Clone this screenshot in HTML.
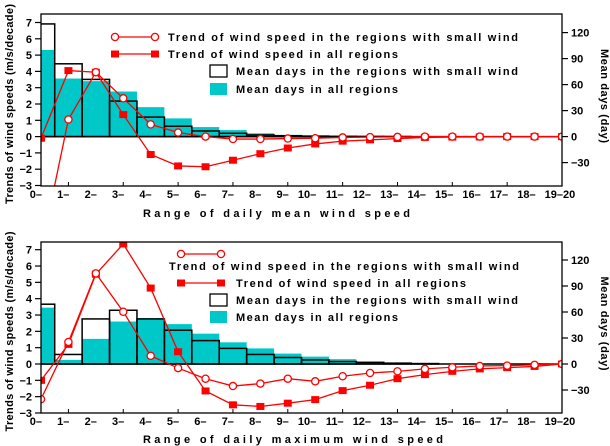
<!DOCTYPE html>
<html><head><meta charset="utf-8">
<style>
html,body{margin:0;padding:0;background:#fff;}
svg{display:block;font-family:"Liberation Sans",sans-serif;}
text{font-weight:bold;font-size:11px;fill:#000;}
</style></head>
<body>
<svg id="chart" width="610" height="446" viewBox="0 0 610 446" xmlns="http://www.w3.org/2000/svg"></svg>
<script>
// ---- data ----
const categories = ["0","1","2","3","4","5","6","7","8","9","10","11","12","13","14","15","16","17","18","19","20"];
const yTicksLeft = [-3,-2,-1,0,1,2,3,4,5,6,7];
const yTicksRight = [-30,0,30,60,90,120];
// top panel (daily mean wind speed)
const topTrendSmall = [-7,1.05,3.95,2.35,0.75,0.25,0.0,-0.15,-0.15,-0.12,-0.1,-0.05,-0.03,-0.02,0,0,0,0,0,0];
const topTrendAll = [-0.1,4.05,3.95,1.35,-1.1,-1.8,-1.85,-1.45,-1.05,-0.7,-0.45,-0.28,-0.2,-0.12,-0.05,-0.03,-0.02,0,0,0];
const topDaysSmall = [130,84,66,41,22.5,12,6.5,3.8,1.9,1,0.5,0.3,0.2,0.1,0,0,0,0,0,0];
const topDaysAll = [100,67,64,52,34,21,11,7.5,3.8,2,1.5,1,0.5,0.3,0.1,0,0,0,0,0];
// bottom panel (daily maximum wind speed)
const botTrendSmall = [-2.15,1.35,5.55,3.2,0.5,-0.25,-0.9,-1.35,-1.2,-0.9,-1.06,-0.75,-0.55,-0.45,-0.3,-0.2,-0.12,-0.1,-0.05,0];
const botTrendAll = [-1.0,1.2,5.5,7.35,4.65,0.75,-1.65,-2.5,-2.6,-2.4,-2.18,-1.63,-1.3,-0.9,-0.65,-0.45,-0.3,-0.22,-0.15,0];
const botDaysSmall = [69,11,52,62,52,39,27,18,11,7.5,4.7,2.8,1.9,1,0.5,0,0,0,0,0];
const botDaysAll = [65,4.7,29,49,53,46,35,25,18,12,8.5,5.6,2.8,1.5,0.8,0,0,0,0,0];

const NS="http://www.w3.org/2000/svg";
const svg=document.getElementById('chart');
function mk(tag,attrs,parent){const e=document.createElementNS(NS,tag);for(const k in attrs)e.setAttribute(k,attrs[k]);(parent||svg).appendChild(e);return e;}
const RED="#ff0000", CYAN="#00c8c8";
const X0=41, X1=562, STEP=(X1-X0)/19;
function xs(i){return X0+i*STEP;}

function panel(o){
  const g=mk('g',{});
  
  
  const yL=v=>o.zero-v*o.unit;
  const yR=d=>o.zero-d*o.dayUnit;
  const cp='clip-'+o.name;
  const defs=mk('defs',{},g); const c=mk('clipPath',{id:cp},defs);
  mk('rect',{x:X0,y:o.top,width:X1-X0,height:o.bottom-o.top},c);
  const inner=mk('g',{'clip-path':'url(#'+cp+')'},g);
  o.daysAll.forEach((d,i)=>{
    if(d<=0)return;
    const r=mk('rect',{x:xs(i)-STEP/2,y:yR(d),width:STEP,height:o.zero-yR(d),fill:CYAN},inner);
    
    
  });
  o.daysSmall.forEach((d,i)=>{
    if(d<=0)return;
    const r=mk('rect',{x:xs(i)-STEP/2,y:yR(d),width:STEP,height:o.zero-yR(d),fill:'none',stroke:'#000','stroke-width':1.5},inner);
    
    
  });
  mk('line',{x1:X0,x2:X1,y1:o.zero,y2:o.zero,stroke:'#000','stroke-width':1.5},inner);
  const ptsA=o.trendAll.map((v,i)=>xs(i)+','+yL(v)).join(' ');
  const pa=mk('polyline',{points:ptsA,fill:'none',stroke:RED,'stroke-width':1.3},inner);
  
  
  const ptsS=o.trendSmall.map((v,i)=>xs(i)+','+yL(v)).join(' ');
  const ps=mk('polyline',{points:ptsS,fill:'none',stroke:RED,'stroke-width':1.3},inner);
  
  
  o.trendAll.forEach((v,i)=>{
    const m=mk('rect',{x:xs(i)-4,y:yL(v)-3.5,width:8,height:7,fill:RED},inner);
    
    
  });
  o.trendSmall.forEach((v,i)=>{
    const m=mk('circle',{cx:xs(i),cy:yL(v),r:3.6,fill:'#fff',stroke:RED,'stroke-width':1.3},inner);
    
    
  });
  mk('rect',{x:X0,y:o.top,width:X1-X0,height:o.bottom-o.top,fill:'none',stroke:'#000','stroke-width':1.3},g);
  yTicksLeft.forEach(v=>{
    const y=yL(v);
    mk('line',{x1:X0-6,x2:X0,y1:y,y2:y,stroke:'#000','stroke-width':1.2},g);
    const t=mk('text',{x:X0-9,y:y+4,'text-anchor':'end'},g); t.textContent=v<0?'\u2212'+(-v):v;
  });
  yTicksRight.forEach(d=>{
    const y=yR(d);
    mk('line',{x1:X1,x2:X1+6,y1:y,y2:y,stroke:'#000','stroke-width':1.2},g);
    const t=mk('text',{x:X1+9,y:y+4},g); t.textContent=d<0?'\u2212'+(-d):d;
  });
  for(let i=1;i<19;i+=2){mk('line',{x1:xs(i),x2:xs(i),y1:o.bottom,y2:o.bottom-4,stroke:'#000','stroke-width':1},g);}
  categories.forEach((lab,i)=>{
    let t;
    if(i<categories.length-1){
      t=mk('text',{x:xs(i)+1,y:o.bottom+12,'text-anchor':'end','font-size':'12'},g);
      t.textContent=lab+'\u2013';
    } else {
      t=mk('text',{x:X1+1,y:o.bottom+12,'font-size':'12'},g);
      t.textContent=lab;
    }
    
    
  });
  const xt=mk('text',{x:143,y:o.titleY,textLength:o.titleLen,lengthAdjust:'spacing'},g);
  xt.textContent=o.title;
  
  
  const cy=(o.top+o.bottom)/2;
  const yt=mk('text',{x:0,y:0,transform:'translate(13,'+(cy+4)+') rotate(-90)','text-anchor':'middle',textLength:200,lengthAdjust:'spacing'},g);
  yt.textContent='Trends of wind speeds (m/s/decade)';
  
  
  const yr=mk('text',{x:0,y:0,transform:'translate(601,'+(cy-4)+') rotate(90)','text-anchor':'middle',textLength:94,lengthAdjust:'spacing'},g);
  yr.textContent='Mean days (day)';
  
  
  const L=o.legend;
  const lg=mk('g',{},g);
  
  
  mk('line',{x1:L.l1x,x2:L.l1x+40,y1:L.y1,y2:L.y1,stroke:RED,'stroke-width':1.3},lg);
  mk('circle',{cx:L.l1x,cy:L.y1,r:3.6,fill:'#fff',stroke:RED,'stroke-width':1.3},lg);
  mk('circle',{cx:L.l1x+40,cy:L.y1,r:3.6,fill:'#fff',stroke:RED,'stroke-width':1.3},lg);
  let t=mk('text',{x:L.t1x,y:L.t1y+4,textLength:350,lengthAdjust:'spacing'},lg); t.textContent='Trend of wind speed in the regions with small wind';
  mk('line',{x1:L.l2x,x2:L.l2x+40,y1:L.y2,y2:L.y2,stroke:RED,'stroke-width':1.3},lg);
  mk('rect',{x:L.l2x-4,y:L.y2-3.5,width:8,height:7,fill:RED},lg);
  mk('rect',{x:L.l2x+36,y:L.y2-3.5,width:8,height:7,fill:RED},lg);
  t=mk('text',{x:L.t2x,y:L.y2+4,textLength:L.t2len,lengthAdjust:'spacing'},lg); t.textContent='Trend of wind speed in all regions';
  mk('rect',{x:210,y:L.y3-6,width:17,height:12,fill:'#fff',stroke:'#000','stroke-width':1.3},lg);
  t=mk('text',{x:236,y:L.y3+4,textLength:282,lengthAdjust:'spacing'},lg); t.textContent='Mean days in the regions with small wind';
  mk('rect',{x:210,y:L.y4-6,width:17,height:12,fill:CYAN},lg);
  t=mk('text',{x:236,y:L.y4+4,textLength:162,lengthAdjust:'spacing'},lg); t.textContent='Mean days in all regions';
}

panel({name:'top-panel',top:14,bottom:186,zero:136.6,unit:16.3,dayUnit:26/30,
  trendSmall:topTrendSmall,trendAll:topTrendAll,daysSmall:topDaysSmall,daysAll:topDaysAll,
  title:'Range of daily mean wind speed',titleY:217,titleLen:267,
  legend:{l1x:115,y1:37,t1x:168,t1y:37,l2x:115,y2:54,t2x:168,t2len:230,y3:71,y4:89}});
panel({name:'bottom-panel',top:242,bottom:413,zero:364,unit:16.33,dayUnit:26/30,
  trendSmall:botTrendSmall,trendAll:botTrendAll,daysSmall:botDaysSmall,daysAll:botDaysAll,
  title:'Range of daily maximum wind speed',titleY:443,titleLen:300,
  legend:{l1x:181,y1:254,t1x:169,t1y:266,l2x:181,y2:283,t2x:236,t2len:230,y3:300,y4:317}});
</script>
</body></html>
